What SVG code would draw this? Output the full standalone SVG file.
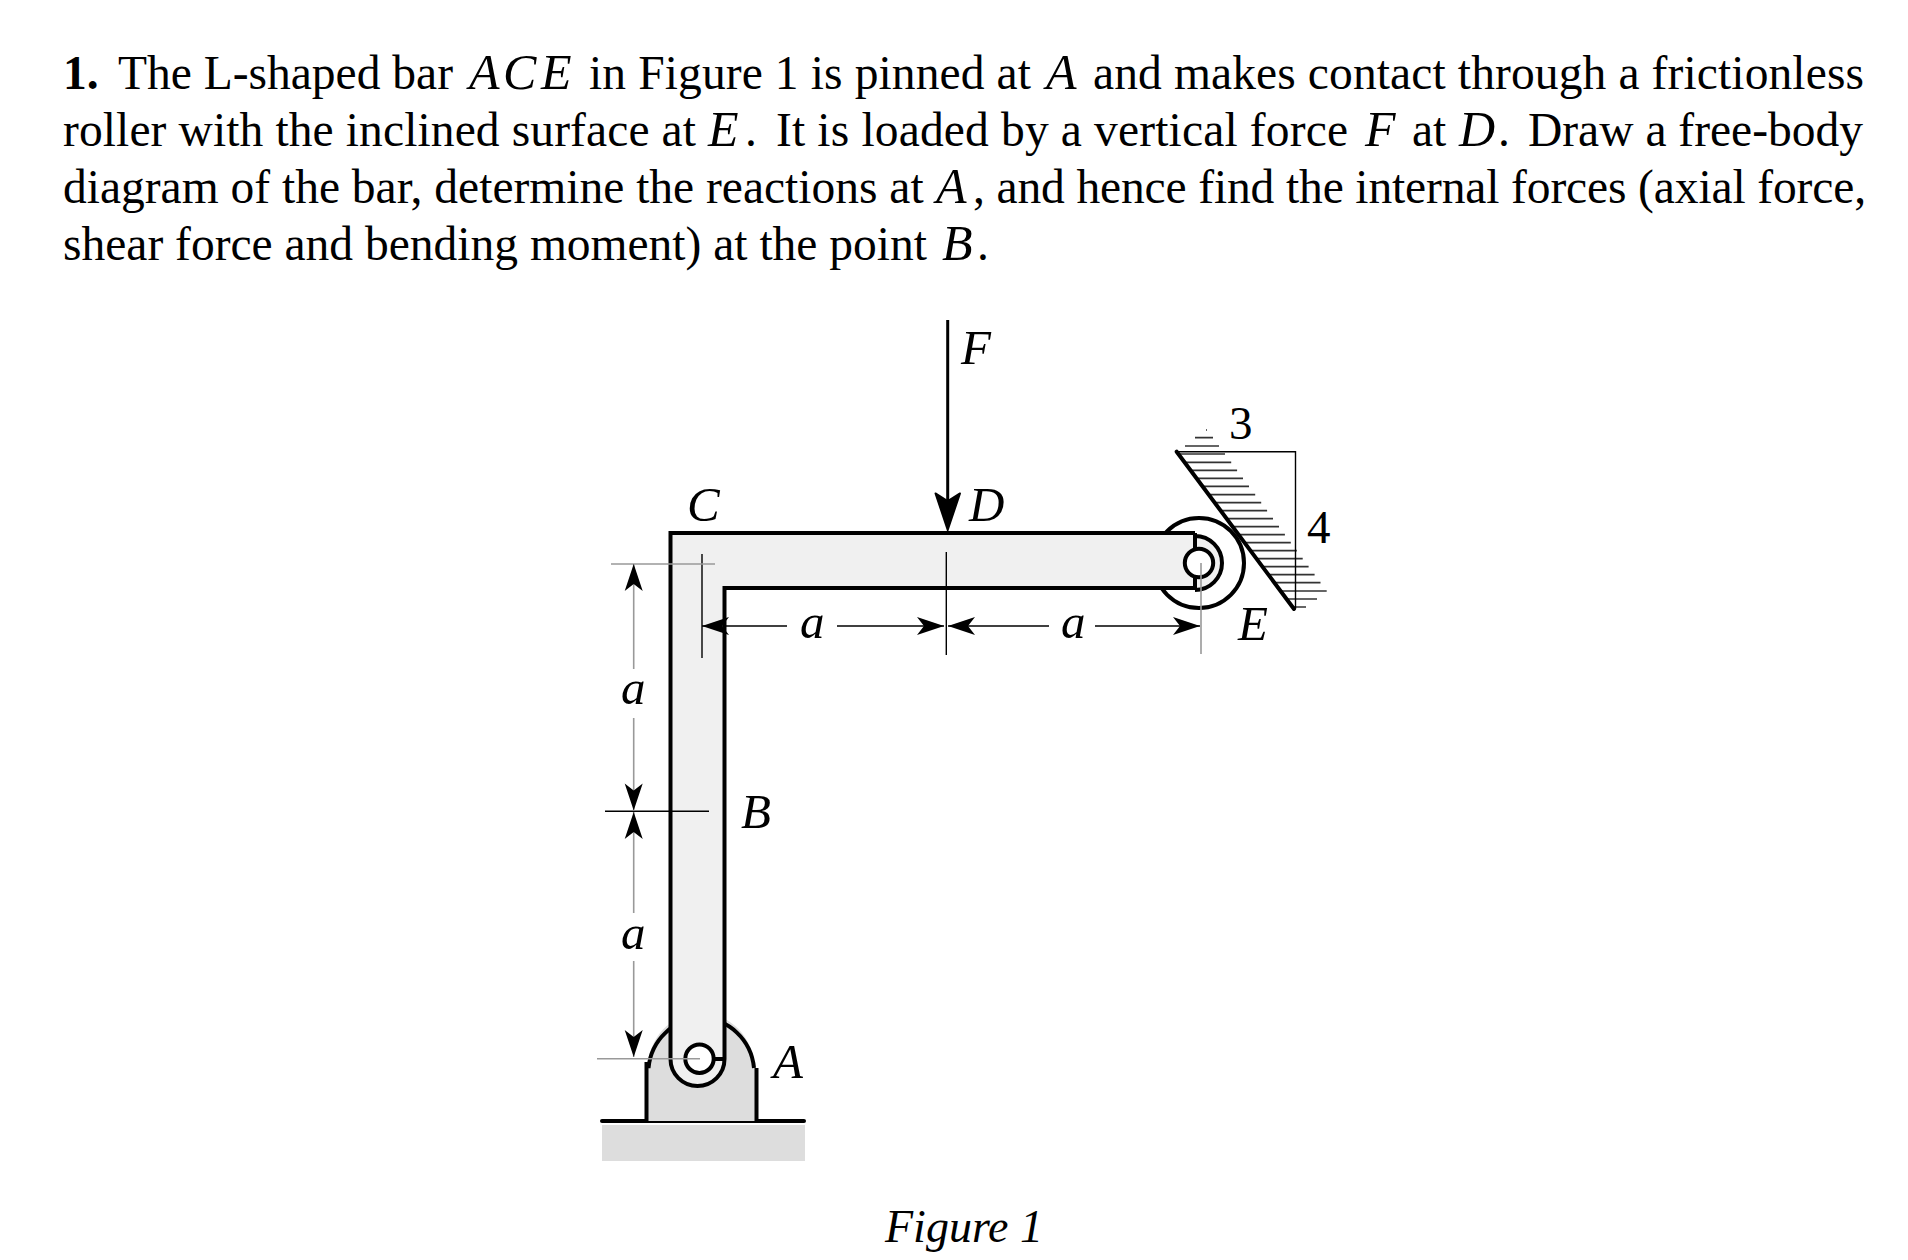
<svg xmlns="http://www.w3.org/2000/svg" width="1908" height="1260" viewBox="0 0 1908 1260">
<style>
text{font-family:"Liberation Serif","Times New Roman",serif;fill:#000}
.t{font-size:47.5px}
.i{font-style:italic;font-size:50px}
.l{font-size:49px;font-style:italic}
.n{font-size:47px}
.s{fill:none;stroke:#000;stroke-width:4}
.dk{fill:none;stroke:#000;stroke-width:1.4}
.dg{fill:none;stroke:#999;stroke-width:1.6}
</style>
<defs>
<marker id="ah" markerUnits="userSpaceOnUse" markerWidth="32" markerHeight="22" viewBox="-29 -11 32 22" refX="0" refY="0" orient="auto"><path d="M0 0L-27 -9L-20 0L-27 9Z" fill="#000"/></marker>
</defs>
<rect width="1908" height="1260" fill="#fff"/>
<g id="problem-text">
<text class="t" y="88.5"><tspan x="63" font-weight="bold">1.</tspan><tspan x="118">The L-shaped bar</tspan><tspan x="469" class="i">A</tspan><tspan x="503" class="i">C</tspan><tspan x="541" class="i">E</tspan><tspan x="589" textLength="442">in Figure 1 is pinned at</tspan><tspan x="1046" class="i">A</tspan><tspan x="1093" textLength="771">and makes contact through a frictionless</tspan></text>
<text class="t" y="145.5"><tspan x="63" textLength="633">roller with the inclined surface at</tspan><tspan x="708" class="i">E</tspan><tspan x="745">.</tspan><tspan x="776" textLength="572">It is loaded by a vertical force</tspan><tspan x="1365" class="i">F</tspan><tspan x="1412">at</tspan><tspan x="1459" class="i">D</tspan><tspan x="1498">.</tspan><tspan x="1528">Draw a free-body</tspan></text>
<text class="t" y="202.5"><tspan x="63">diagram of the bar, determine the reactions at</tspan><tspan x="936" class="i">A</tspan><tspan x="973" textLength="893">, and hence find the internal forces (axial force,</tspan></text>
<text class="t" y="259.5"><tspan x="63">shear force and bending moment) at the point</tspan><tspan x="942" class="i">B</tspan><tspan x="977">.</tspan></text>
</g>
<g id="ground">
<rect x="602" y="1125" width="203" height="36" fill="#ddd"/>
<path d="M602 1121H804" class="s" stroke-linecap="round"/>
</g>
<g id="support-A">
<path d="M646.5 1121V1068H648A53 55 0 0 1 754 1068H756.5V1121Z" fill="#ddd"/>
<path d="M646.5 1121V1062M756.5 1121V1068M648.5 1068A53 55 0 0 1 754 1068" class="s"/>
</g>
<g id="roller-E">
<circle cx="1199" cy="563" r="45" class="s" style="fill:#fff"/>
</g>
<g id="incline">
<path d="M1206 430H1207M1195 437.7H1213M1185 446H1219M1178.4 454H1225M1184.5 462.3H1231.2M1190.5 470.3H1237.1M1196.5 478.3H1243M1202.4 486.3H1249M1208.7 494.7H1255.2M1214.6 502.7H1261.2M1220.6 510.7H1267.1M1226.5 518.7H1273M1232.5 526.7H1279M1238.4 534.7H1284.9M1244.4 542.7H1290.8M1250.3 550.7H1296.8M1256.3 558.7H1302.7M1262.2 566.7H1308.6M1268.2 574.7H1314.6M1274.1 582.7H1320.5M1280.3 591H1326.7M1286.3 599H1317M1292.2 607H1306" fill="none" stroke="#333" stroke-width="1.7"/>
<path d="M1177 451.7H1295.5V609" class="dk"/>
<path d="M1176.7 451.7L1294 609" class="s" stroke-linecap="round"/>
</g>
<g id="bar-ACE">
<path d="M670.5 533H1195V536A27 27 0 0 1 1195 590V588H724.5V1059H724.5A27 27 0 0 1 670.5 1059Z" fill="#f0f0f0"/>
<path d="M670.5 1059V533H1195M724.5 1059V588H1195M1195 533V590M1195 536A27 27 0 0 1 1195 590M670.5 1059A27 27 0 0 0 724.5 1059M712 1059H724.5" class="s"/>
</g>
<g id="pin-A"><circle cx="699.5" cy="1058.7" r="14.2" class="s" style="fill:#fff"/></g>
<g id="pin-E"><circle cx="1199" cy="563" r="14.2" class="s" style="fill:#fff"/></g>
<g id="connectors">
<path d="M947.7 320V505" fill="none" stroke="#000" stroke-width="3"/>
<path d="M947.7 533L934.5 493.5Q934.5 492 936 492.5L947.7 500L959.5 492.5Q961 492 961 493.5Z" fill="#000"/>
<path d="M702 554V658M946.3 552V655" class="dk"/>
<path d="M787 626H702" class="dk" marker-end="url(#ah)"/>
<path d="M837 626H944" class="dk" marker-end="url(#ah)"/>
<path d="M1049 626H948" class="dk" marker-end="url(#ah)"/>
<path d="M1095 626H1200" class="dk" marker-end="url(#ah)"/>
<path d="M1201 563V654" class="dg"/>
<path d="M611 564H715M597 1058.7H700" class="dg"/>
<path d="M605 811.3H709" class="dk"/>
<path d="M633.7 669V564" class="dg" marker-end="url(#ah)"/>
<path d="M633.7 718V810.5" class="dg" marker-end="url(#ah)"/>
<path d="M633.7 913V812" class="dg" marker-end="url(#ah)"/>
<path d="M633.7 961V1057" class="dg" marker-end="url(#ah)"/>
</g>
<g id="labels">
<text class="l" x="961" y="364">F</text>
<text class="l" x="687" y="521">C</text>
<text class="l" x="969" y="521">D</text>
<text class="l" x="741" y="828">B</text>
<text class="l" x="773" y="1078">A</text>
<text class="l" x="1238" y="640">E</text>
<text class="n" x="1229" y="439">3</text>
<text class="n" x="1307" y="543">4</text>
<text class="l" x="800" y="638">a</text>
<text class="l" x="1061" y="638">a</text>
<text class="l" x="621" y="704">a</text>
<text class="l" x="621" y="949">a</text>
<text x="885" y="1242" font-size="46px" font-style="italic">Figure 1</text>
</g>
</svg>
